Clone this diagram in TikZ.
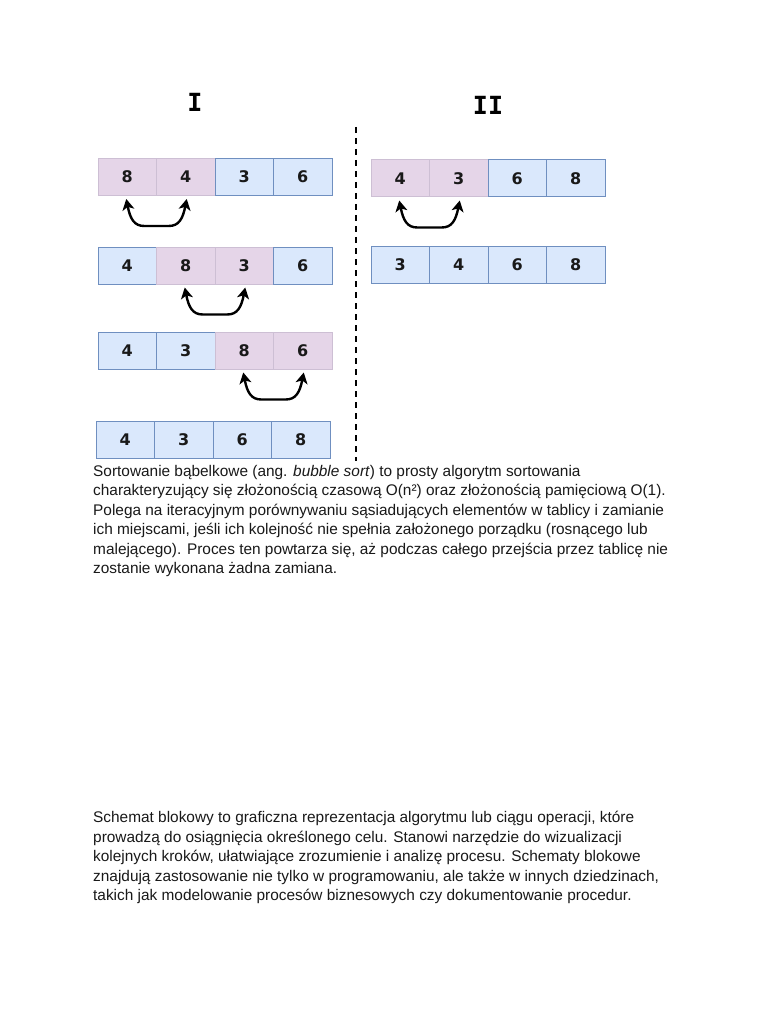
\documentclass[tikz,border=0pt]{standalone}
\usepackage{fontspec}
\setmainfont{Liberation Sans}
\newfontfamily\monob{DejaVu Sans Mono}
\newfontfamily\numf{DejaVu Sans}
\usetikzlibrary{calc,arrows.meta}
\definecolor{pinkfill}{HTML}{E5D5E8}
\definecolor{pinkline}{HTML}{CDBFD4}
\definecolor{bluefill}{HTML}{DAE8FC}
\definecolor{blueline}{HTML}{6F8FC0}
\tikzset{
  cellp/.style={rectangle,draw=pinkline,fill=pinkfill,line width=1pt,minimum width=58.5pt,minimum height=37pt,inner sep=0pt,font=\numf\bfseries\fontsize{16}{16}\selectfont,text=black!90},
  cellb/.style={cellp,draw=blueline,fill=bluefill},
  swaparrow/.style={line width=2.4pt,{Stealth[length=11pt,width=12pt,inset=3pt]}-{Stealth[length=11pt,width=12pt,inset=3pt]},line cap=round},
  title/.style={font=\monob\bfseries\fontsize{25}{25}\selectfont},
  para/.style={anchor=north west,inner sep=0pt,align=left,font=\fontsize{15.4}{19.5}\selectfont,text=black!90}
}
\begin{document}
\begin{tikzpicture}[x=1pt,y=-1pt]
\useasboundingbox[fill=white] (0,0) rectangle (768,1024);
\newcommand\cellrow[4]{%
  \foreach \v/\s [count=\i] in {#4}{%
    \node[\s] (#1c\i) at ({#2+29.25+(\i-1)*58.5},#3) {\v};
  }%
}
\node[title] (t1) at (195,102) {I};
\node[title] (t2) at (488,105) {II};
\cellrow{ra}{98}{177}{8/cellp,4/cellp,3/cellb,6/cellb}
\cellrow{rb}{98}{265.5}{4/cellb,8/cellp,3/cellp,6/cellb}
\cellrow{rc}{98}{350.5}{4/cellb,3/cellb,8/cellp,6/cellp}
\cellrow{rd}{96}{439.5}{4/cellb,3/cellb,6/cellb,8/cellb}
\cellrow{sa}{371}{178.5}{4/cellp,3/cellp,6/cellb,8/cellb}
\cellrow{sb}{371}{264.5}{3/cellb,4/cellb,6/cellb,8/cellb}
\coordinate (dtop) at (356,127);
\coordinate (dbot) at (356,461);
\draw[line width=2pt,dash pattern=on 6pt off 5pt] (dtop) -- (dbot);
\newcommand\swap[2]{%
  \draw[swaparrow] ($(#1.south)+(-1,3)$) .. controls +(4,20) and +(-10,0) .. ($(#1.south)+(17,30)$)
     -- ($(#2.south)+(-17,30)$) .. controls +(10,0) and +(-4,20) .. ($(#2.south)+(1,3)$);
}
\swap{rac1}{rac2}
\swap{rbc2}{rbc3}
\swap{rcc3}{rcc4}
\swap{sac1}{sac2}
\node[para] (p1) at (93,465) {Sortowanie bąbelkowe (ang. \textit{bubble sort}) to prosty algorytm sortowania\\
charakteryzujący się złożonością czasową O(n²) oraz złożonością pamięciową O(1).\\
Polega na iteracyjnym porównywaniu sąsiadujących elementów w tablicy i zamianie\\
ich miejscami, jeśli ich kolejność nie spełnia założonego porządku (rosnącego lub\\
malejącego). Proces ten powtarza się, aż podczas całego przejścia przez tablicę nie\\
zostanie wykonana żadna zamiana.};
\node[para] (p2) at (93,811) {Schemat blokowy to graficzna reprezentacja algorytmu lub ciągu operacji, które\\
prowadzą do osiągnięcia określonego celu. Stanowi narzędzie do wizualizacji\\
kolejnych kroków, ułatwiające zrozumienie i analizę procesu. Schematy blokowe\\
znajdują zastosowanie nie tylko w programowaniu, ale także w innych dziedzinach,\\
takich jak modelowanie procesów biznesowych czy dokumentowanie procedur.};
\end{tikzpicture}
\end{document}
